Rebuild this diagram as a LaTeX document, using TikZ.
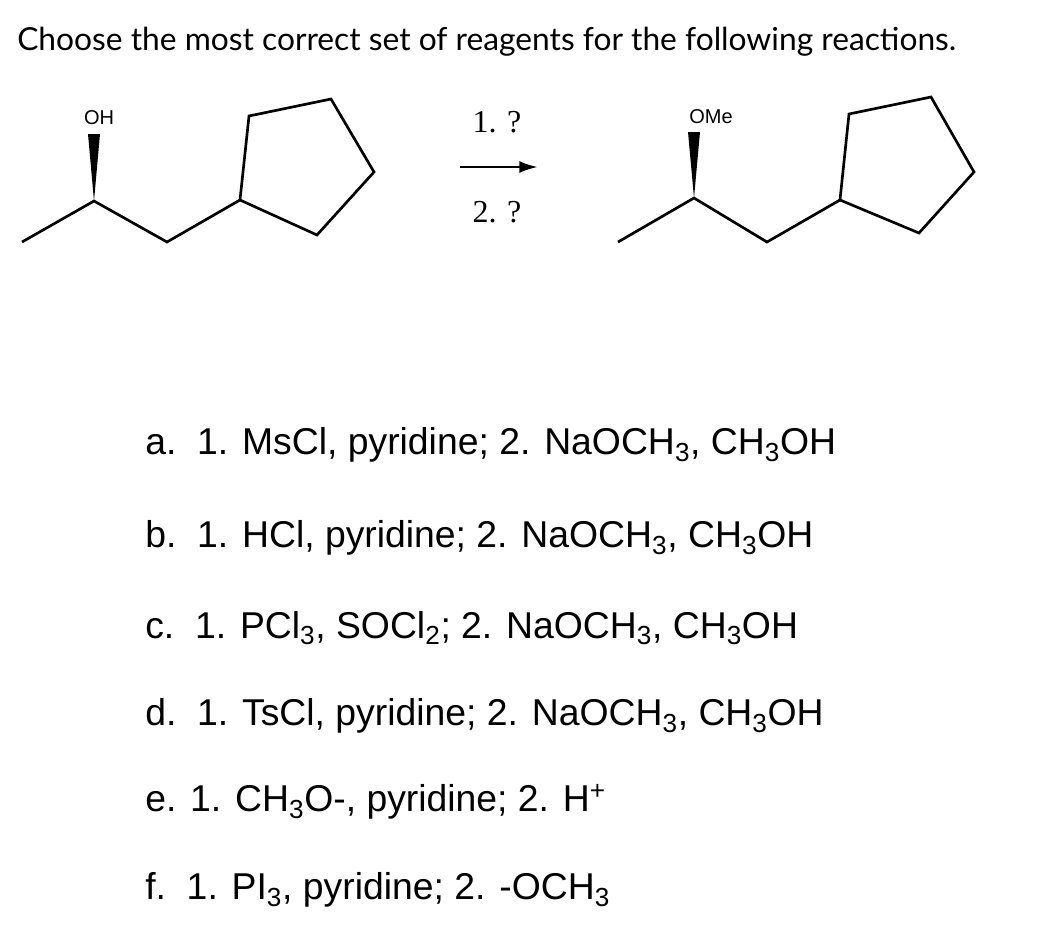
\documentclass[tikz,border=0pt]{standalone}
\usepackage{fontspec}
\usetikzlibrary{arrows.meta}
\setmainfont{Liberation Sans}
\newfontfamily\latofont{Lato}
\newfontfamily\serfont{Liberation Serif}
\newcommand{\sbt}[1]{\textsubscript{#1}}
\newcommand{\spt}[1]{\textsuperscript{#1}}
\begin{document}
\begin{tikzpicture}[x=0.75pt,y=-0.75pt,
  bond/.style={line width=2pt,line join=miter},
  opt/.style={anchor=west,font=\fontsize{28}{32}\selectfont,inner sep=0},
  lab/.style={font=\fontsize{15}{17}\selectfont,inner sep=0},
  reag/.style={font=\serfont\fontsize{24}{28}\selectfont,inner sep=0}]
\useasboundingbox (0,0) rectangle (1046,940);
\node[anchor=west,inner sep=0,font=\latofont\fontsize{23.8}{28}\selectfont] (title) at (17,42) {Choose the most correct set of reagents for the following reactions.};
% left molecule
\coordinate (a1) at (22,242); \coordinate (a2) at (94,201); \coordinate (a3) at (167,242);
\coordinate (r1) at (240,200); \coordinate (r2) at (249,116); \coordinate (r3) at (331,99);
\coordinate (r4) at (374,172); \coordinate (r5) at (317,235);
\draw[bond] (a1)--(a2)--(a3)--(r1);
\draw[bond] (r1)--(r2)--(r3)--(r4)--(r5)--cycle;
\fill (a2) -- (88,134) -- (100,134) -- cycle;
\node[lab] (oh) at (99,118) {OH};
% arrow
\coordinate (s) at (460,167); \coordinate (e) at (538,167);
\draw[line width=2pt,-{Latex[length=14pt,width=9pt]}] (s)--(e);
\node[reag] (s1) at (497,122) {1. ?};
\node[reag] (s2) at (497,212) {2. ?};
% right molecule
\coordinate (b1) at (618,242); \coordinate (b2) at (694,198); \coordinate (b3) at (767,242);
\coordinate (q1) at (840,200); \coordinate (q2) at (849,114); \coordinate (q3) at (931,97);
\coordinate (q4) at (974,172); \coordinate (q5) at (919,233);
\draw[bond] (b1)--(b2)--(b3)--(q1);
\draw[bond] (q1)--(q2)--(q3)--(q4)--(q5)--cycle;
\fill (b2) -- (688,132) -- (700,132) -- cycle;
\node[lab] (ome) at (711,117) {OMe};
% options
\node[opt] (oa) at (145,445) {a.\ \ 1. MsCl, pyridine; 2. NaOCH\sbt{3}, CH\sbt{3}OH};
\node[opt] (ob) at (145,538) {b.\ \ 1. HCl, pyridine; 2. NaOCH\sbt{3}, CH\sbt{3}OH};
\node[opt] (oc) at (145,628) {c.\ \ 1. PCl\sbt{3}, SOCl\sbt{2}; 2. NaOCH\sbt{3}, CH\sbt{3}OH};
\node[opt] (od) at (145,716) {d.\ \ 1. TsCl, pyridine; 2. NaOCH\sbt{3}, CH\sbt{3}OH};
\node[opt] (oe) at (145,802) {e. 1. CH\sbt{3}O-, pyridine; 2. H\spt{+}};
\node[opt] (of) at (145,890) {f.\ \ 1. PI\sbt{3}, pyridine; 2. -OCH\sbt{3}};
\end{tikzpicture}
\end{document}
